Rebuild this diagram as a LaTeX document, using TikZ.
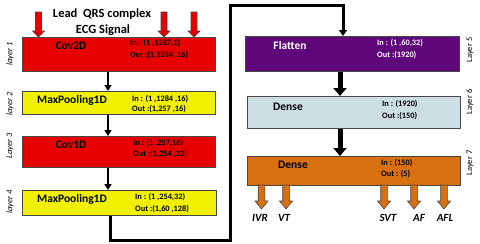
\documentclass[tikz,border=0pt]{standalone}
\usepackage{fontspec}
\setmainfont{Carlito}
\usetikzlibrary{arrows.meta,calc}
\definecolor{boxred}{RGB}{232,0,0}
\definecolor{boxyel}{RGB}{240,240,0}
\definecolor{boxpur}{RGB}{94,6,122}
\definecolor{boxblue}{RGB}{205,221,228}
\definecolor{boxora}{RGB}{216,112,16}
\definecolor{edge}{RGB}{70,70,70}
\tikzset{
  layerbox/.style={draw=edge, line width=0.8pt, anchor=north west, inner sep=0pt},
  title/.style={font=\bfseries\fontsize{12.5}{13}\selectfont, inner sep=0pt},
  btxt/.style={font=\bfseries\fontsize{11.5}{12}\selectfont, inner sep=0pt},
  iotxt/.style={font=\bfseries\fontsize{8.3}{9}\selectfont, inner sep=0pt, anchor=west},
  lyl/.style={font=\itshape\fontsize{8.5}{9}\selectfont, rotate=90, inner sep=0pt},
  lyr/.style={font=\fontsize{8.5}{9}\selectfont, rotate=90, inner sep=0pt},
  outl/.style={font=\bfseries\itshape\fontsize{11}{12}\selectfont, inner sep=0pt},
  thinconn/.style={line width=2.2pt, -{Triangle[length=6pt,width=7pt]}},
  fatconn/.style={line width=5pt, -{Triangle[length=8pt,width=13pt]}},
  bigconn/.style={line width=3pt, -{Triangle[length=6pt,width=8pt]}},
}
\begin{document}
\begin{tikzpicture}[x=1pt,y=-1pt]
\useasboundingbox (0,0) rectangle (480,244);
% title
\node[title] (t1) at (102,14) {Lead\ \ QRS complex};
\node[title] (t2) at (103,30) {ECG Signal};
% input arrows
\foreach \xx in {38.5,164,194}{
  \draw[fill=boxred, draw=edge, line width=0.6pt] (\xx-3,12) -- (\xx+3,12) -- (\xx+3,31) -- (\xx+6,31) -- (\xx,37) -- (\xx-6,31) -- (\xx-3,31) -- cycle;
}
% left boxes
\node[layerbox, fill=boxred, minimum width=193pt, minimum height=34pt] (cov2d) at (22,37) {};
\node[layerbox, fill=boxyel, minimum width=193pt, minimum height=23pt] (mp1) at (22,91) {};
\node[layerbox, fill=boxred, minimum width=193pt, minimum height=31pt] (cov1d) at (22,136) {};
\node[layerbox, fill=boxyel, minimum width=194pt, minimum height=25pt] (mp2) at (22,190) {};
% right boxes
\node[layerbox, fill=boxpur, minimum width=214pt, minimum height=35pt] (flat) at (245,36) {};
\node[layerbox, fill=boxblue, minimum width=213pt, minimum height=32pt] (dense1) at (247,96) {};
\node[layerbox, fill=boxora, minimum width=213pt, minimum height=29pt] (dense2) at (247,156) {};
% box texts
\node[btxt] (l1) at (71,46) {Cov2D};
\node[iotxt] (i1) at (130,43) {In : (1 ,1287,1)};
\node[iotxt] (o1) at (130,55) {Out :(1,1284 ,16)};
\node[btxt] (l2) at (72,100) {MaxPooling1D};
\node[iotxt] (i2) at (132,99) {In : (1 ,1284 ,16)};
\node[iotxt] (o2) at (132,109) {Out :(1,257 ,16)};
\node[btxt] (l3) at (71,145) {Cov1D};
\node[iotxt] (i3) at (133,143) {In : (1 ,257,16)};
\node[iotxt] (o3) at (133,154) {Out :(1,254 ,32)};
\node[btxt] (l4) at (72,199) {MaxPooling1D};
\node[iotxt] (i4) at (135,197) {In : (1 ,254,32)};
\node[iotxt] (o4) at (135,209) {Out :(1,60 ,128)};
\node[btxt, text=white] (l5) at (290,46) {Flatten};
\node[iotxt, text=white] (i5) at (377,43) {In : (1 ,60,32)};
\node[iotxt, text=white] (o5) at (377,55) {Out :(1920)};
\node[btxt] (l6) at (288,107) {Dense};
\node[iotxt] (i6) at (382,104) {In : (1920)};
\node[iotxt] (o6) at (382,116) {Out :(150)};
\node[btxt] (l7) at (293,165) {Dense};
\node[iotxt] (i7) at (381,163) {In : (150)};
\node[iotxt] (o7) at (381,174) {Out : (5)};
% layer labels
\node[lyl] (y1) at (10,54) {layer 1};
\node[lyl] (y2) at (10,104) {layer 2};
\node[lyl] (y3) at (10,146) {Layer 3};
\node[lyl] (y4) at (10,202) {layer 4};
\node[lyr] (y5) at (470,50) {Layer 5};
\node[lyr] (y6) at (470,102) {Layer 6};
\node[lyr] (y7) at (470,163) {Layer 7};
% connectors
\coordinate (xa) at (108,0);
\coordinate (xb) at (110,0);
\coordinate (xc) at (340,0);
\draw[thinconn] (cov2d.south -| xa) -- (mp1.north -| xa);
\draw[thinconn] (mp1.south -| xa) -- (cov1d.north -| xa);
\draw[thinconn] (cov1d.south -| xa) -- (mp2.north -| xa);
\coordinate (c1) at (110,240);
\coordinate (c2) at (230,240);
\coordinate (c3) at (230,5);
\coordinate (c4) at (343,5);
\draw[bigconn, line join=miter] (mp2.south -| xb) -- (c1) -- (c2) -- (c3) -- (c4) -- (flat.north -| c4);
\draw[fatconn] (flat.south -| xc) -- (dense1.north -| xc);
\draw[fatconn] (dense1.south -| xc) -- (dense2.north -| xc);
% output arrows
\foreach \xx in {261.5,286,384,414,444}{
  \draw[fill=boxora, draw=edge, line width=0.6pt] (\xx-3.3,185) -- (\xx+3.3,185) -- (\xx+3.3,201) -- (\xx+6.5,201) -- (\xx,209) -- (\xx-6.5,201) -- (\xx-3.3,201) -- cycle;
}
\node[outl] (a1) at (260,218) {IVR};
\node[outl] (a2) at (284,218) {VT};
\node[outl] (a3) at (388,218) {SVT};
\node[outl] (a4) at (419,218) {AF};
\node[outl] (a5) at (445,218) {AFL};
\end{tikzpicture}
\end{document}
